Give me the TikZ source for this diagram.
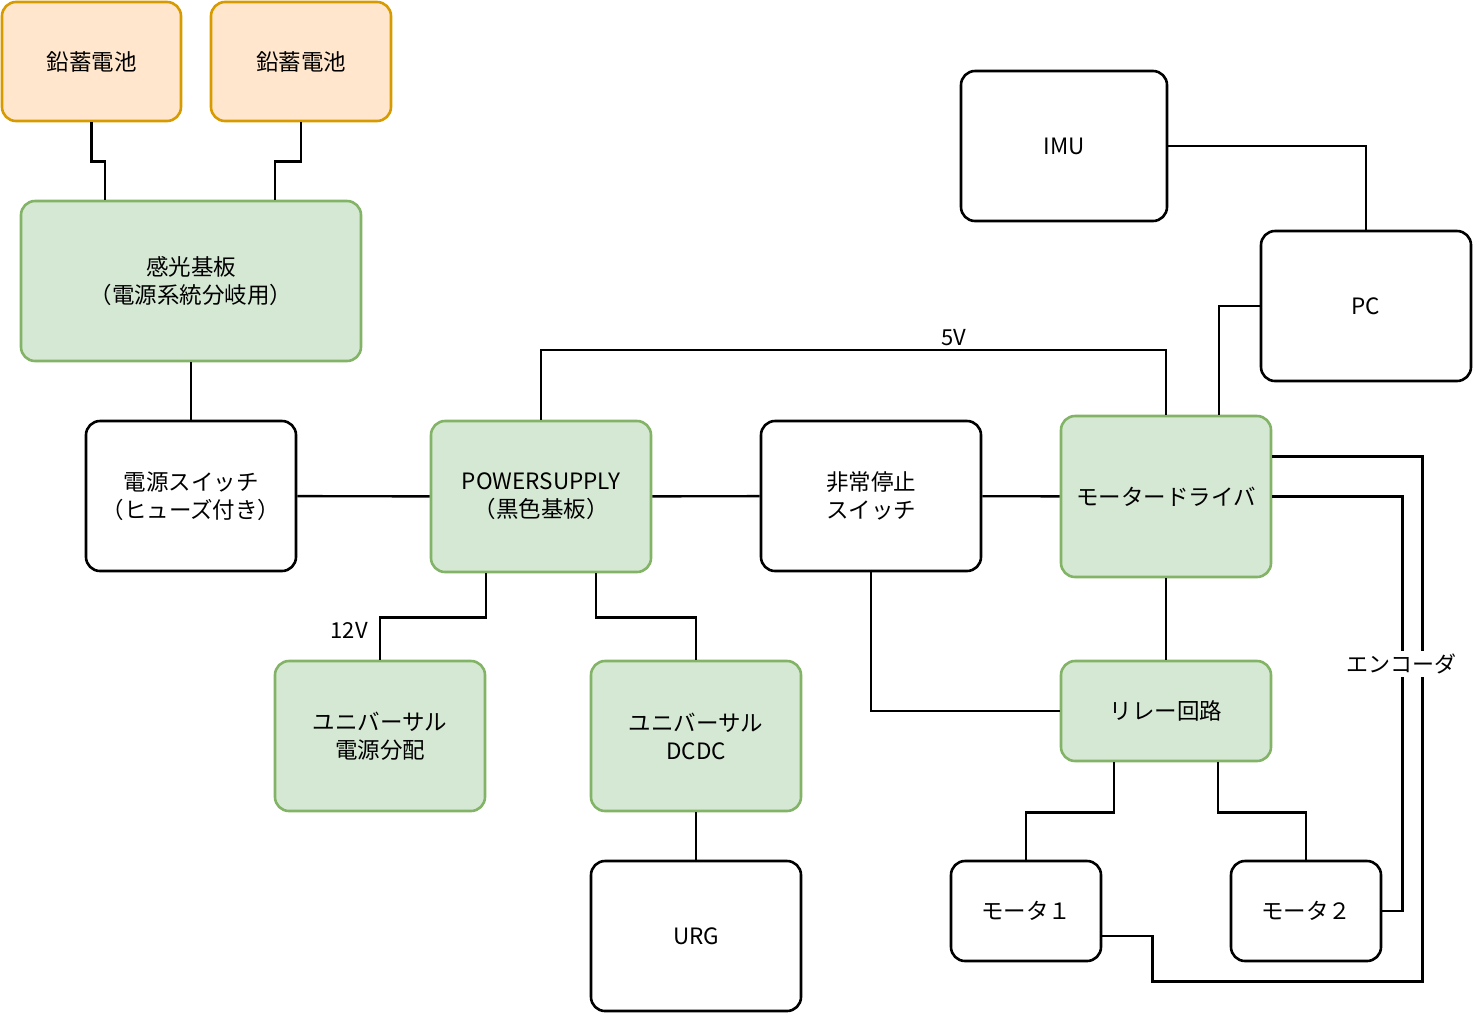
\documentclass[tikz,border=0pt]{standalone}
\usepackage{fontspec}
\setmainfont{Noto Sans CJK JP}
\usetikzlibrary{calc,positioning}

\definecolor{grfill}{HTML}{D5E8D4}
\definecolor{grline}{HTML}{82B366}
\definecolor{orfill}{HTML}{FFE6CC}
\definecolor{orline}{HTML}{D79B00}

\tikzset{
    box/.style={draw, line width=2.6pt, rounded corners=14pt, align=center,
        font=\fontsize{22.5}{28}\selectfont, inner sep=2pt},
    plain/.style={box, fill=white, draw=black},
    green/.style={box, fill=grfill, draw=grline},
    orange/.style={box, fill=orfill, draw=orline},
    wire/.style={line width=2.4pt},
    lbl/.style={font=\fontsize{22}{26}\selectfont, inner sep=1pt}
}

\begin{document}
\begin{tikzpicture}[x=1pt, y=-1pt]
    \useasboundingbox (0,0) rectangle (1474,1013);

    % Batteries and power distribution.
    \node[orange, minimum width=179pt, minimum height=119pt] (bat1) at (91.5,61.5) {鉛蓄電池};
    \node[orange, minimum width=180pt, minimum height=119pt] (bat2) at (301,61.5) {鉛蓄電池};
    \node[green, minimum width=340pt, minimum height=160pt] (kanko) at (191,281) {感光基板\\（電源系統分岐用）};
    \node[plain, minimum width=210pt, minimum height=150pt] (sw) at (191,496) {電源スイッチ\\（ヒューズ付き）};
    \node[green, minimum width=220pt, minimum height=151pt] (ps) at (541,496.5) {POWERSUPPLY\\（黒色基板）};
    \node[green, minimum width=210pt, minimum height=150pt] (upow) at (380,736) {ユニバーサル\\電源分配};
    \node[green, minimum width=210pt, minimum height=150pt] (dcdc) at (696,736) {ユニバーサル\\DCDC};
    \node[plain, minimum width=210pt, minimum height=150pt] (urg) at (696,936) {URG};

    % Control side.
    \node[plain, minimum width=220pt, minimum height=150pt] (estop) at (871,496) {非常停止\\スイッチ};
    \node[green, minimum width=210pt, minimum height=161pt] (md) at (1166,496.5) {モータードライバ};
    \node[plain, minimum width=206pt, minimum height=150pt] (imu) at (1064,146) {IMU};
    \node[plain, minimum width=210pt, minimum height=150pt] (pc) at (1366,306) {PC};
    \node[green, minimum width=210pt, minimum height=100pt] (relay) at (1166,711) {リレー回路};
    \node[plain, minimum width=150pt, minimum height=100pt] (m1) at (1026,911) {モータ１};
    \node[plain, minimum width=150pt, minimum height=100pt] (m2) at (1306,911) {モータ２};

    % Connectors.
    \draw[wire] (bat1.south) -- ++(0,39) -| ([xshift=85pt]kanko.north west);
    \draw[wire] (bat2.south) -- ++(0,39) -| ([xshift=255pt]kanko.north west);
    \draw[wire] (kanko) -- (sw);
    \draw[wire] (sw) -- (ps);
    \draw[wire] (ps) -- (estop);
    \draw[wire] (estop) -- (md);
    \draw[wire] (ps.north) -- ++(0,-70) -| (md.north) node[lbl, pos=0.33, above=2pt] {5V};
    \draw[wire] ([xshift=-55pt]ps.south) -- ++(0,44) -| (upow.north)
        node[lbl, pos=0.5, below left=3pt and 10pt] {12V};
    \draw[wire] ([xshift=55pt]ps.south) -- ++(0,44) -| (dcdc.north);
    \draw[wire] (dcdc) -- (urg);
    \draw[wire] (estop.south) |- (relay.west);
    \draw[wire] (md) -- (relay);
    \draw[wire] ([xshift=-52pt]relay.south) -- ++(0,50) -| (m1.north);
    \draw[wire] ([xshift=52pt]relay.south) -- ++(0,50) -| (m2.north);
    \draw[wire] (imu.east) -| (pc.north);
    \draw[wire] (pc.west) -| ([xshift=53pt]md.north);
    \draw[wire] ([yshift=40pt]md.east) -- ++(150,0) -- ++(0,525) -- ++(-270,0) |- ([yshift=-25pt]m1.east);
    \draw[wire] (md.east) -- ++(130,0) |- (m2.east);
    \node[lbl, fill=white, inner sep=3pt] (enc) at (1401,664) {エンコーダ};
\end{tikzpicture}
\end{document}
